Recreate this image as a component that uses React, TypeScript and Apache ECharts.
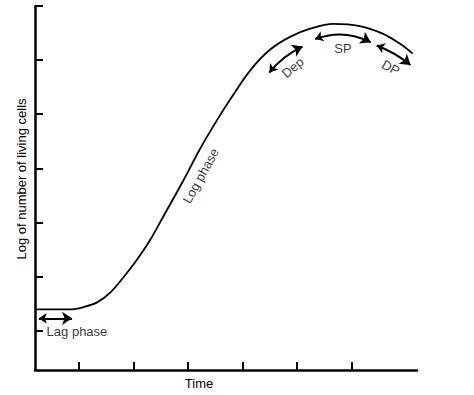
import React, { useEffect, useRef } from "react";
import * as echarts from "echarts";

// Growth curve (x: time units, tick every 1; y: log of living cells, tick every 1)
const curveX = [0.19, 0.84, 1.07, 1.33, 1.57, 1.81, 2.06, 2.30, 2.54, 2.91, 3.22, 3.53, 3.81, 4.14, 4.50, 4.87, 5.24, 5.66, 6.15, 6.57, 6.89, 7.12];
const curveY = [1.39, 1.39, 1.43, 1.52, 1.70, 1.98, 2.31, 2.67, 3.10, 3.77, 4.36, 4.89, 5.33, 5.81, 6.19, 6.43, 6.58, 6.67, 6.63, 6.49, 6.30, 6.12];

const xTicks = [1, 2, 3, 4, 5, 6];
const yTicks = [1, 2, 3, 4, 5, 6, 7];
const xRange = [0.19, 7.2];
const yRange = [0.27, 7];

// Phase arrows: start, end, bend
const arrowNames = ["Lag", "Dep", "SP", "DP"];
const arrowStartX = [0.26, 4.49, 5.33, 6.46];
const arrowStartY = [1.225, 5.77, 6.39, 6.27];
const arrowEndX = [0.87, 5.10, 6.35, 7.08];
const arrowEndY = [1.225, 6.25, 6.33, 5.91];
const arrowBend = [0, 0.12, 0.22, 0.08];

// Phase labels
const phaseLabels = ["Lag phase", "Log phase", "Dep", "SP", "DP"];
const labelX = [0.96, 3.23, 4.92, 5.84, 6.72];
const labelY = [0.99, 3.86, 5.86, 6.21, 5.86];
const labelAngle = [0, 61, 40, 0, -28];

export default function App() {
  const ref = useRef<HTMLDivElement>(null);
  useEffect(() => {
    if (!ref.current) return;
    const chart = echarts.init(ref.current, null, { renderer: "svg" });
    const font = "'Liberation Sans', Arial, Helvetica, sans-serif";
    chart.setOption({
      animation: false,
      backgroundColor: "#ffffff",
      grid: { left: 35, right: 57, top: 6, bottom: 22, containLabel: false },
      xAxis: {
        type: "value",
        min: xRange[0],
        max: xRange[1],
        name: "Time",
        nameLocation: "middle",
        nameGap: 7,
        nameTextStyle: { color: "#000", fontSize: 13, fontFamily: font, verticalAlign: "top", padding: [0, 54, 0, 0] },
        axisLine: { show: true, lineStyle: { color: "#000", width: 2.5 } },
        axisTick: { show: true, inside: true, length: 8, customValues: xTicks, lineStyle: { color: "#000", width: 2 } },
        axisLabel: { show: false },
        splitLine: { show: false },
      },
      yAxis: {
        type: "value",
        min: yRange[0],
        max: yRange[1],
        name: "Log of number of living cells",
        nameLocation: "middle",
        nameRotate: 90,
        nameGap: 7,
        nameTextStyle: { color: "#000", fontSize: 13, fontFamily: font, padding: [0, 0, 0, 18] },
        axisLine: { show: true, lineStyle: { color: "#000", width: 2.5 } },
        axisTick: { show: true, inside: true, length: 8, customValues: yTicks, lineStyle: { color: "#000", width: 2 } },
        axisLabel: { show: false },
        splitLine: { show: false },
      },
      series: [
        {
          type: "line",
          data: curveX.map((x, i) => [x, curveY[i]]),
          showSymbol: false,
          symbol: "none",
          smooth: 0.35,
          lineStyle: { color: "#000", width: 1.8 },
          silent: true,
        },
        {
          type: "lines",
          coordinateSystem: "cartesian2d",
          symbol: ["arrow", "arrow"],
          symbolSize: [8, 10],
          lineStyle: { color: "#000", width: 2, opacity: 1 },
          itemStyle: { color: "#000" },
          data: arrowNames.map((n, i) => ({
            name: n,
            coords: [
              [arrowStartX[i], arrowStartY[i]],
              [arrowEndX[i], arrowEndY[i]],
            ],
            lineStyle: { curveness: arrowBend[i] },
          })),
          silent: true,
        },
        {
          type: "scatter",
          symbolSize: 0,
          clip: false,
          silent: true,
          data: phaseLabels.map((n, i) => ({
            name: n,
            value: [labelX[i], labelY[i]],
            label: { rotate: labelAngle[i] },
          })),
          label: {
            show: true,
            position: "inside",
            formatter: "{b}",
            color: "#000",
            fontSize: 13,
            fontFamily: font,
          },
        },
      ],
    });
    return () => chart.dispose();
  }, []);
  return (
    <div
      ref={ref}
      style={{ position: "absolute", left: 0, top: 0, width: 474, height: 395, background: "#fff" }}
    />
  );
}
